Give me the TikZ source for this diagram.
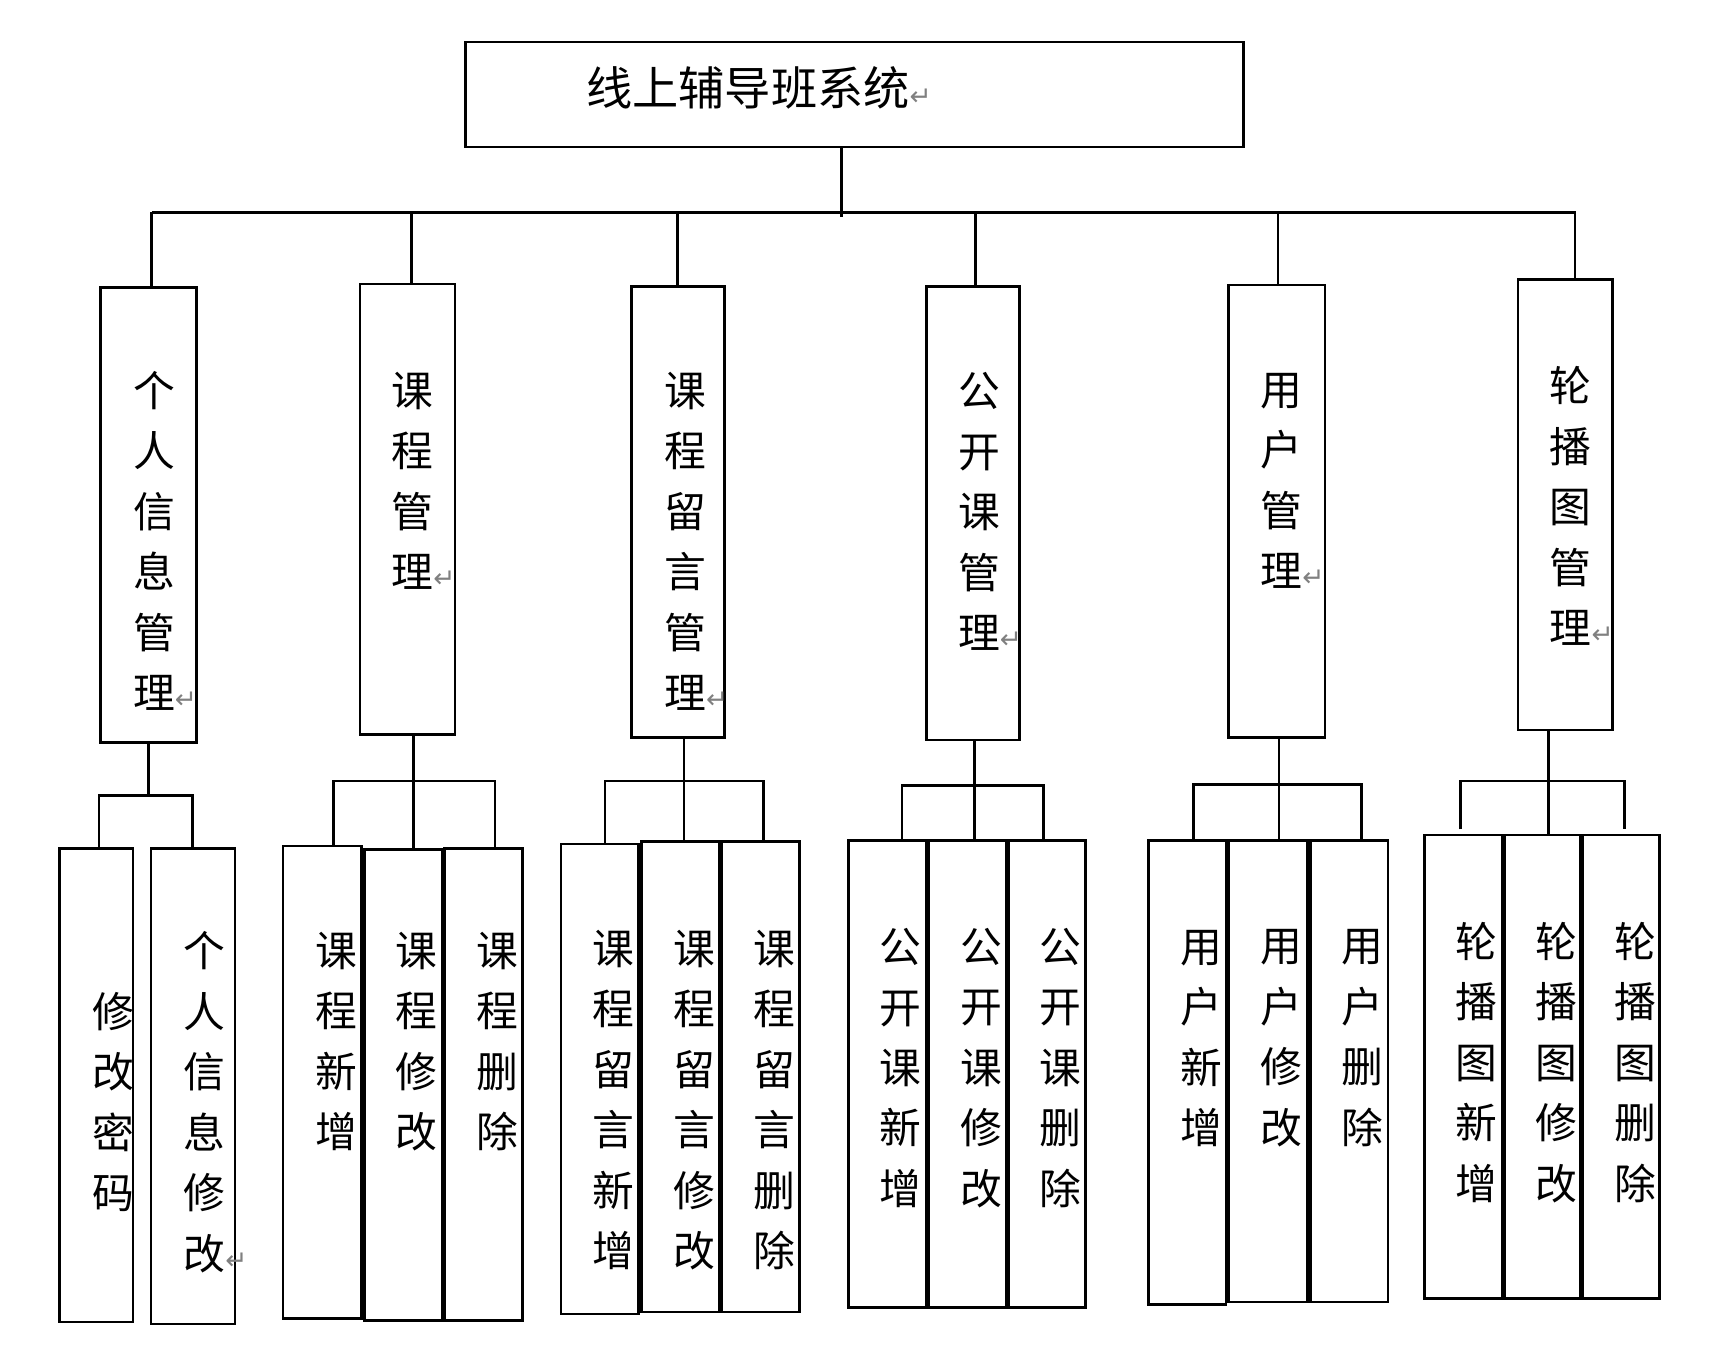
\documentclass[tikz,border=0pt]{standalone}
\usepackage{fontspec}
\newfontfamily\cjk{Noto Sans CJK SC}
\newfontfamily\dv{DejaVu Sans}
\usetikzlibrary{fit}
\tikzset{x=0.5pt,y=-0.5pt,
 box/.style={draw,line width=1.2pt,inner sep=-0.6pt},
 ln/.style={line width=1.2pt},
 txt/.style={font=\cjk\fontsize{19}{27.5}\selectfont,align=center,inner sep=0pt}}
\newcommand{\rt}{\makebox[0pt][l]{\dv\fontsize{12}{12}\selectfont\color{gray}↵}}
\newcommand{\bx}[5]{\node[box,fit={(#2,#3)(#4,#5)}] (#1) {};}
\begin{document}
\begin{tikzpicture}
\useasboundingbox (0,0) rectangle (1562,1230);
% top
\bx{top}{422}{37}{1132}{135}
\node[txt,font=\cjk\fontsize{21}{21}\selectfont] at (680,80) {线上辅导班系统\rt};
\coordinate (bus) at (765,197);
\draw[ln] (765,0 |- top.south) -- (bus);
\draw[ln] (138,193) -- (1433,193);
% level 2
\bx{a}{90}{260}{180}{676}
\bx{b}{326}{257}{415}{669}
\bx{c}{573}{259}{660}{672}
\bx{d}{841}{259}{928}{674}
\bx{e}{1116}{258}{1206}{672}
\bx{f}{1379}{253}{1467}{665}
\foreach \n/\x in {a/138,b/374,c/616,d/887,e/1162,f/1432}{\draw[ln] (\x,193) -- (\x,0 |- \n.north);}
\node[txt] at (140,492) {个\\人\\信\\息\\管\\理\rt};
\node[txt] at (375,437) {课\\程\\管\\理\rt};
\node[txt] at (623,492) {课\\程\\留\\言\\管\\理\rt};
\node[txt] at (890,465) {公\\开\\课\\管\\理\rt};
\node[txt] at (1165,437) {用\\户\\管\\理\rt};
\node[txt] at (1428,460) {轮\\播\\图\\管\\理\rt};
% group 1
\bx{a1}{53}{770}{122}{1203}
\bx{a2}{136}{770}{215}{1205}
\draw[ln] (135,0 |- a.south) -- (135,723);
\draw[ln] (90,770) -- (90,723) -- (175,723) -- (175,770);
\node[txt] at (103,1002) {修\\改\\密\\码};
\node[txt] at (186,1002) {个\\人\\信\\息\\修\\改\rt};
% group 2
\bx{b1}{256}{768}{330}{1200}
\bx{b2}{330}{771}{403}{1202}
\bx{b3}{403}{770}{476}{1202}
\draw[ln] (376,0 |- b.south) -- (376,0 |- b2.north);
\draw[ln] (303,768) -- (303,710) -- (450,710) -- (450,770);
\node[txt] at (306,947) {课\\程\\新\\增};
\node[txt] at (379,947) {课\\程\\修\\改};
\node[txt] at (452,947) {课\\程\\删\\除};
% group 3
\bx{c1}{509}{766}{582}{1196}
\bx{c2}{582}{764}{655}{1194}
\bx{c3}{655}{764}{728}{1194}
\draw[ln] (622,0 |- c.south) -- (622,0 |- c2.north);
\draw[ln] (550,766) -- (550,710) -- (694,710) -- (694,764);
\node[txt] at (558,1000) {课\\程\\留\\言\\新\\增};
\node[txt] at (631,1000) {课\\程\\留\\言\\修\\改};
\node[txt] at (704,1000) {课\\程\\留\\言\\删\\除};
% group 4
\bx{d1}{770}{763}{843}{1190}
\bx{d2}{843}{763}{916}{1190}
\bx{d3}{916}{763}{988}{1190}
\draw[ln] (886,0 |- d.south) -- (886,0 |- d2.north);
\draw[ln] (820,763) -- (820,714) -- (949,714) -- (949,763);
\node[txt] at (819,971) {公\\开\\课\\新\\增};
\node[txt] at (892,971) {公\\开\\课\\修\\改};
\node[txt] at (964,971) {公\\开\\课\\删\\除};
% group 5
\bx{e1}{1043}{763}{1116}{1187}
\bx{e2}{1116}{763}{1190}{1185}
\bx{e3}{1190}{763}{1263}{1185}
\draw[ln] (1163,0 |- e.south) -- (1163,0 |- e2.north);
\draw[ln] (1085,763) -- (1085,713) -- (1238,713) -- (1238,763);
\node[txt] at (1092,944) {用\\户\\新\\增};
\node[txt] at (1165,944) {用\\户\\修\\改};
\node[txt] at (1239,944) {用\\户\\删\\除};
% group 6
\bx{f1}{1294}{758}{1367}{1182}
\bx{f2}{1367}{758}{1438}{1182}
\bx{f3}{1438}{758}{1510}{1182}
\draw[ln] (1408,0 |- f.south) -- (1408,0 |- f2.north);
\draw[ln] (1328,754) -- (1328,710) -- (1477,710) -- (1477,754);
\node[txt] at (1342,966) {轮\\播\\图\\新\\增};
\node[txt] at (1415,966) {轮\\播\\图\\修\\改};
\node[txt] at (1487,966) {轮\\播\\图\\删\\除};
\end{tikzpicture}
\end{document}
